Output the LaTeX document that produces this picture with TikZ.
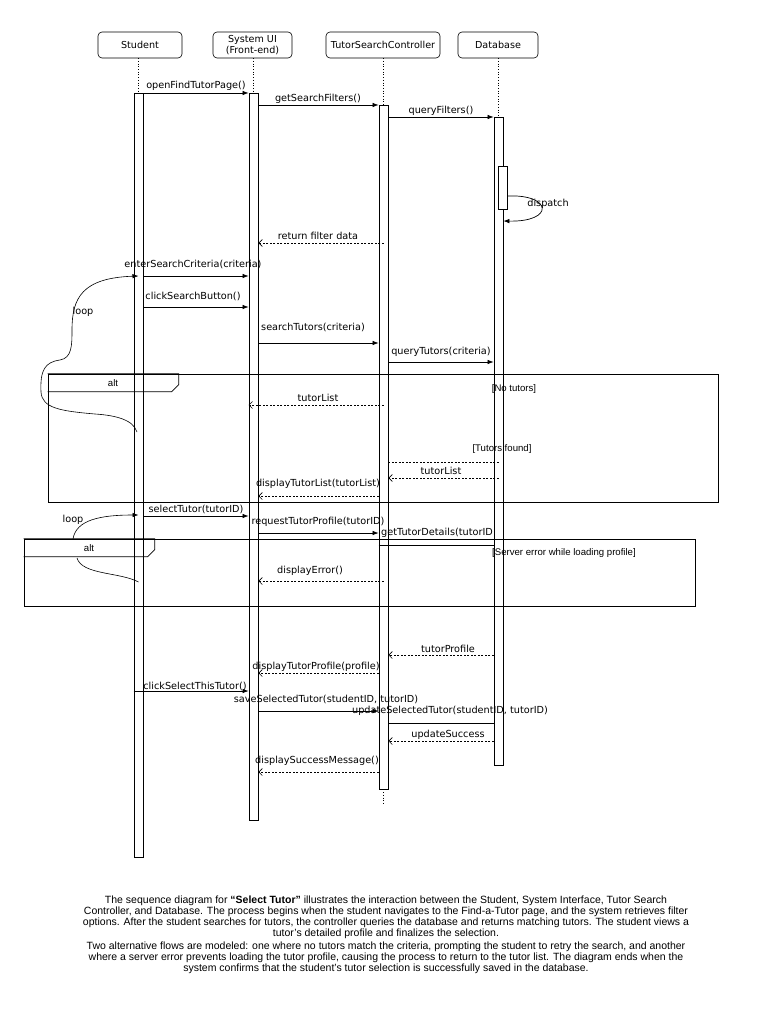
\documentclass[tikz,border=0pt]{standalone}
\usepackage{fontspec}
\setmainfont{DejaVu Sans}
\newfontfamily\capfont{Liberation Sans}
\usetikzlibrary{arrows.meta}
\begin{document}
\begin{tikzpicture}[x=1pt,y=-1pt,
  part/.style={draw, rounded corners=4pt, minimum height=26pt, inner sep=1pt, align=center, line width=0.6pt, font=\fontsize{9.6}{10.8}\selectfont},
  bar/.style={draw, fill=white, minimum width=9pt, inner sep=0pt, line width=0.8pt},
  life/.style={dotted, line width=0.7pt},
  msg/.style={-{Latex[length=6pt,width=4.5pt]}, line width=0.7pt},
  plain/.style={line width=0.7pt},
  ret/.style={-{Straight Barb[length=3.5pt,width=7pt]}, dash pattern=on 2pt off 1.5pt, line width=0.6pt},
  dret/.style={dash pattern=on 2pt off 1.5pt, line width=0.6pt},
  lbl/.style={font=\fontsize{9.7}{10}\selectfont, inner sep=0pt},
  guard/.style={font=\capfont\fontsize{9.6}{10}\selectfont, inner sep=0pt},
  frame/.style={draw, line width=0.6pt, inner sep=0pt},
  loopc/.style={line width=0.6pt}
]
\useasboundingbox[fill=white] (0,0) rectangle (768,1024);

% participants
\node[part, minimum width=84pt] (stu) at (140,45) {Student};
\node[part, minimum width=79pt] (ui) at (252.5,45) {System UI\\(Front-end)};
\node[part, minimum width=114pt] (ctl) at (383,45) {TutorSearchController};
\node[part, minimum width=80pt] (db) at (498,45) {Database};

% activation bars
\node[bar, minimum height=764pt] (stuBar) at (138.5,475) {};
\node[bar, minimum height=727pt] (uiBar) at (253.5,456.5) {};
\node[bar, minimum height=684pt] (ctlBar) at (383.5,447) {};
\node[bar, minimum height=648pt] (dbBar) at (498.5,441) {};
\node[bar, minimum height=43pt] (dbBar2) at (502.5,187.5) {};

% lifelines
\draw[life] (stuBar.north |- stu.south) -- (stuBar.north);
\draw[life] (uiBar.north |- ui.south) -- (uiBar.north);
\draw[life] (ctlBar.north |- ctl.south) -- (ctlBar.north);
\draw[life] (dbBar.north |- db.south) -- (dbBar.north);
\coordinate (ctlEnd) at ([yshift=-16pt]ctlBar.south);
\draw[life] (ctlBar.south) -- (ctlEnd);

% messages
\draw[msg] (stuBar.east |- 0,93) -- (uiBar.west |- 0,93);
\node[lbl] (l1) at (196,86) {openFindTutorPage()};
\draw[msg] (uiBar.east |- 0,105) -- (ctlBar.west |- 0,105);
\node[lbl] (l2) at (318,99) {getSearchFilters()};
\draw[msg] (ctlBar.east |- 0,117) -- (dbBar.west |- 0,117);
\node[lbl] (l3) at (441,111) {queryFilters()};
\draw[msg] (dbBar2.east |- 0,196) .. controls (552,194) and (555,222) .. (dbBar.east |- 0,221);
\node[lbl] (l4) at (548,204) {dispatch};
\draw[ret] (ctlBar.center |- 0,243) -- (uiBar.east |- 0,243);
\node[lbl] (l5) at (318,236) {return filter data};

\draw[msg] (stuBar.east |- 0,276) -- (uiBar.west |- 0,276);
\node[lbl] (l6) at (193,264) {enterSearchCriteria(criteria)};
\draw[msg] (stuBar.east |- 0,307) -- (uiBar.west |- 0,307);
\node[lbl] (l7) at (193,296) {clickSearchButton()};
\draw[msg] (uiBar.east |- 0,343) -- (ctlBar.west |- 0,343);
\node[lbl] (l8) at (313,327) {searchTutors(criteria)};
\draw[msg] (ctlBar.east |- 0,362) -- (dbBar.west |- 0,362);
\node[lbl] (l9) at (441,352) {queryTutors(criteria)};

% alt frame 1
\node[frame, minimum width=670pt, minimum height=128pt] (alt1) at (383,438) {};
\draw[frame] (alt1.north west) -- ++(131,0) -- ++(0,11) -- ++(-7,7) -- ++(-124,0);
\node[guard] (a1) at (113,383) {alt};
\node[guard] (g1) at (514,389) {[No tutors]};
\draw[ret] (ctlBar.center |- 0,405) -- (uiBar.west |- 0,405);
\node[lbl] (l10) at (318,398) {tutorList};
\node[guard] (g2) at (502,449) {[Tutors found]};
\draw[dret] (ctlBar.east |- 0,462) -- (dbBar.center |- 0,462);
\draw[ret] (dbBar.center |- 0,478) -- (ctlBar.east |- 0,478);
\node[lbl] (l11) at (441,471) {tutorList};
\draw[ret] (ctlBar.west |- 0,496) -- (uiBar.east |- 0,496);
\node[lbl] (l12) at (318,484) {displayTutorList(tutorList)};

% loop 1
\draw[loopc, -{Latex[length=6pt,width=4.5pt]}] (137,432) .. controls (133,418) and (110,415) .. (95,414)
  .. controls (60,411) and (42,408) .. (41,392)
  .. controls (40,370) and (45,362) .. (60,360)
  .. controls (72,358) and (72,345) .. (72,330)
  .. controls (72,298) and (82,278) .. (stuBar.center |- 0,276);
\node[lbl] (lp1) at (83,312) {loop};

% select tutor
\draw[msg] (stuBar.east |- 0,516) -- (uiBar.west |- 0,516);
\node[lbl] (l13) at (196,509) {selectTutor(tutorID)};
\draw[loopc, -{Latex[length=6pt,width=4.5pt]}] (73,539) .. controls (76,520) and (100,515) .. (stuBar.center |- 0,515);
\node[lbl] (lp2) at (73,520) {loop};
\draw[msg] (uiBar.east |- 0,533) -- (ctlBar.west |- 0,533);
\node[lbl] (l14) at (318,522) {requestTutorProfile(tutorID)};
\draw[plain] (ctlBar.west |- 0,545) -- (dbBar.west |- 0,545);
\node[lbl, anchor=west] (l15) at (381,533) {getTutorDetails(tutorID};

% alt frame 2
\node[frame, minimum width=671pt, minimum height=67pt] (alt2) at (359.5,572.5) {};
\draw[frame] (alt2.north west) -- ++(131,0) -- ++(0,11) -- ++(-7,7) -- ++(-124,0);
\node[guard] (a2) at (89,548) {alt};
\draw[loopc] (77,558) .. controls (82,575) and (120,572) .. (stuBar.center |- 0,582);
\node[guard] (g3) at (564,553) {[Server error while loading profile]};
\draw[ret] (ctlBar.center |- 0,581) -- (uiBar.east |- 0,581);
\node[lbl] (l16) at (310,571) {displayError()};

% final part
\draw[ret] (dbBar.west |- 0,655) -- (ctlBar.east |- 0,655);
\node[lbl] (l17) at (448,649) {tutorProfile};
\draw[ret] (ctlBar.west |- 0,673) -- (uiBar.east |- 0,673);
\node[lbl] (l18) at (316,667) {displayTutorProfile(profile)};
\draw[msg] (stuBar.west |- 0,691) -- (uiBar.west |- 0,691);
\node[lbl] (l19) at (195,686) {clickSelectThisTutor()};
\draw[msg] (uiBar.east |- 0,711) -- (ctlBar.west |- 0,711);
\node[lbl] (l20) at (326,699) {saveSelectedTutor(studentID, tutorID)};
\draw[plain] (ctlBar.east |- 0,723) -- (dbBar.west |- 0,723);
\node[lbl] (l21) at (450,711) {updateSelectedTutor(studentID, tutorID)};
\draw[ret] (dbBar.west |- 0,741) -- (ctlBar.east |- 0,741);
\node[lbl] (l22) at (448,735) {updateSuccess};
\draw[ret] (ctlBar.west |- 0,772) -- (uiBar.east |- 0,772);
\node[lbl] (l23) at (317,761) {displaySuccessMessage()};

% caption
\node[font=\capfont\fontsize{10.5}{11}\selectfont, align=center, inner sep=0pt, anchor=north] (cap) at (386,896) {%
The sequence diagram for \textbf{“Select Tutor”} illustrates the interaction between the Student, System Interface, Tutor Search\\
Controller, and Database. The process begins when the student navigates to the Find-a-Tutor page, and the system retrieves filter\\
options. After the student searches for tutors, the controller queries the database and returns matching tutors. The student views a\\
tutor’s detailed profile and finalizes the selection.\\[2pt]
Two alternative flows are modeled: one where no tutors match the criteria, prompting the student to retry the search, and another\\
where a server error prevents loading the tutor profile, causing the process to return to the tutor list. The diagram ends when the\\
system confirms that the student’s tutor selection is successfully saved in the database.};
\end{tikzpicture}
\end{document}
